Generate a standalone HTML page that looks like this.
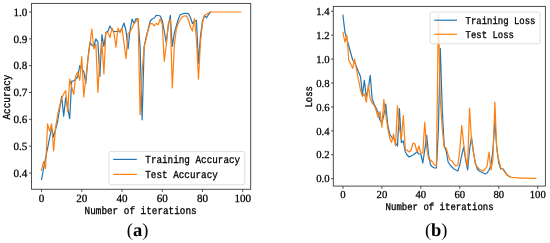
<!DOCTYPE html>
<html><head><meta charset="utf-8"><title>Accuracy and loss curves</title>
<style>
html,body{margin:0;padding:0;background:#fff;}
body{width:550px;height:243px;overflow:hidden;position:relative;}
svg{position:absolute;left:0;top:0;display:block;text-rendering:geometricPrecision;}
.tick{font-family:"Liberation Serif",serif;font-size:11.1px;fill:#000;stroke:#000;stroke-width:0.25px;}
.lab{font-family:"Liberation Mono",monospace;font-size:10.8px;fill:#000;stroke:#000;stroke-width:0.3px;}
.labb{font-size:10.4px;}
.tickb{font-size:10.7px;}
.cap{font-family:"Liberation Serif",serif;font-size:18.5px;fill:#000;}
.cap tspan.b{font-weight:bold;}
</style></head><body>
<svg width="550" height="243" viewBox="0 0 550 243">
<rect x="0" y="0" width="550" height="243" fill="#ffffff"/>
<!-- panel a -->
<g>
<polyline points="41.53,179.50 43.54,168.50 45.55,158.00 47.57,148.50 49.58,138.00 51.59,128.00 53.60,137.00 55.61,129.00 57.63,121.50 59.64,109.00 61.65,96.40 63.66,116.10 65.67,97.60 67.69,108.00 69.70,118.60 71.71,81.00 73.72,81.00 75.73,79.00 77.75,76.50 79.76,65.70 81.77,68.50 83.78,71.50 85.79,83.50 87.81,60.00 89.82,42.70 91.83,45.00 93.84,46.50 95.85,38.90 97.87,42.00 99.88,76.50 101.89,34.50 103.90,46.50 105.91,32.50 107.93,31.30 109.94,26.00 111.95,30.00 113.96,31.50 115.97,31.50 117.99,31.50 120.00,31.50 122.01,28.00 124.02,23.00 126.03,31.00 128.05,49.00 130.06,30.00 132.07,19.10 134.08,23.50 136.09,18.50 138.11,19.00 140.12,48.00 142.13,119.80 144.14,47.00 146.15,37.00 148.17,29.50 150.18,21.00 152.19,19.00 154.20,18.00 156.21,15.30 158.23,15.50 160.24,16.00 162.25,20.40 164.26,31.00 166.27,42.70 168.29,26.00 170.30,15.30 172.31,46.50 174.32,33.00 176.33,26.00 178.35,19.00 180.36,14.60 182.37,14.00 184.38,13.40 186.39,13.40 188.41,13.60 190.42,17.50 192.43,23.50 194.44,21.00 196.45,20.40 198.47,63.30 200.48,36.00 202.49,21.00 204.50,15.50 206.51,17.80 208.53,14.50 210.54,12.00" fill="none" stroke="#1f77b4" stroke-width="1.2" stroke-linejoin="round" stroke-linecap="square"/>
<polyline points="41.53,170.40 43.54,161.70 45.55,168.50 47.57,123.80 49.58,131.00 51.59,123.80 53.60,151.00 55.61,127.00 57.63,115.00 59.64,106.00 61.65,98.00 63.66,94.00 65.67,90.50 67.69,111.60 69.70,79.10 71.71,87.00 73.72,94.50 75.73,76.00 77.75,72.10 79.76,80.40 81.77,56.70 83.78,97.00 85.79,78.00 87.81,60.00 89.82,45.00 91.83,29.00 93.84,49.00 95.85,44.00 97.87,92.50 99.88,58.00 101.89,41.50 103.90,74.00 105.91,32.30 107.93,32.50 109.94,37.60 111.95,28.00 113.96,33.00 115.97,47.20 117.99,28.00 120.00,32.70 122.01,28.30 124.02,43.00 126.03,58.60 128.05,33.50 130.06,32.00 132.07,28.00 134.08,24.00 136.09,21.00 138.11,19.00 140.12,114.70 142.13,72.00 144.14,47.00 146.15,39.00 148.17,30.00 150.18,23.80 152.19,23.30 154.20,25.80 156.21,23.40 158.23,24.80 160.24,18.70 162.25,24.50 164.26,61.30 166.27,45.00 168.29,23.50 170.30,19.30 172.31,88.00 174.32,45.60 176.33,29.00 178.35,23.00 180.36,19.50 182.37,16.70 184.38,16.00 186.39,15.90 188.41,19.50 190.42,27.00 192.43,31.00 194.44,18.50 196.45,39.00 198.47,79.20 200.48,42.00 202.49,23.00 204.50,15.30 206.51,14.30 208.53,13.00 210.54,12.00 212.55,12.00 214.56,12.00 216.57,12.00 218.59,12.00 220.60,12.00 222.61,12.00 224.62,12.00 226.63,12.00 228.65,12.00 230.66,12.00 232.67,12.00 234.68,12.00 236.69,12.00 238.71,12.00 240.72,12.00" fill="none" stroke="#ff7f0e" stroke-width="1.2" stroke-linejoin="round" stroke-linecap="square"/>
<rect x="31.57" y="3.4" width="219.13" height="185.86" fill="none" stroke="#3a3a3a" stroke-width="0.9"/>
<g stroke="#3a3a3a" stroke-width="0.9">
<line x1="41.53" y1="189.26" x2="41.53" y2="191.9"/><line x1="81.77" y1="189.26" x2="81.77" y2="191.9"/><line x1="122.01" y1="189.26" x2="122.01" y2="191.9"/><line x1="162.25" y1="189.26" x2="162.25" y2="191.9"/><line x1="202.49" y1="189.26" x2="202.49" y2="191.9"/><line x1="242.73" y1="189.26" x2="242.73" y2="191.9"/>
<line x1="29" y1="172.98" x2="31.57" y2="172.98"/><line x1="29" y1="146.15" x2="31.57" y2="146.15"/><line x1="29" y1="119.32" x2="31.57" y2="119.32"/><line x1="29" y1="92.49" x2="31.57" y2="92.49"/><line x1="29" y1="65.66" x2="31.57" y2="65.66"/><line x1="29" y1="38.83" x2="31.57" y2="38.83"/><line x1="29" y1="12.00" x2="31.57" y2="12.00"/>
</g>
<g class="tick" text-anchor="middle">
<text x="41.53" y="201.5">0</text><text x="81.77" y="201.5">20</text><text x="122.01" y="201.5">40</text><text x="162.25" y="201.5">60</text><text x="202.49" y="201.5">80</text><text x="242.73" y="201.5">100</text>
</g>
<g class="tick" text-anchor="end">
<text x="27.3" y="176.78">0.4</text><text x="27.3" y="149.95">0.5</text><text x="27.3" y="123.12">0.6</text><text x="27.3" y="96.29">0.7</text><text x="27.3" y="69.46">0.8</text><text x="27.3" y="42.63">0.9</text><text x="27.3" y="15.80">1.0</text>
</g>
<text class="lab" x="140.6" y="213.7" text-anchor="middle" textLength="112" lengthAdjust="spacingAndGlyphs">Number of iterations</text>
<text class="lab" transform="translate(9.5,97) rotate(-90)" text-anchor="middle" textLength="45" lengthAdjust="spacingAndGlyphs">Accuracy</text>
<rect x="109.1" y="151.4" width="135.7" height="33.4" rx="2" ry="2" fill="#fff" fill-opacity="0.8" stroke="#dadada" stroke-width="0.9"/>
<line x1="113.2" y1="159.4" x2="136.8" y2="159.4" stroke="#1f77b4" stroke-width="1.2"/>
<line x1="113.2" y1="174.4" x2="136.8" y2="174.4" stroke="#ff7f0e" stroke-width="1.2"/>
<text class="lab" x="145.3" y="163.2" textLength="94.9" lengthAdjust="spacingAndGlyphs">Training Accuracy</text>
<text class="lab" x="145.3" y="178.2" textLength="72.5" lengthAdjust="spacingAndGlyphs">Test Accuracy</text>
<text class="cap" x="137.5" y="236.3" text-anchor="middle">(<tspan class="b">a</tspan>)</text>
</g>
<!-- panel b -->
<g>
<polyline points="342.94,15.20 344.89,32.00 346.84,39.00 348.78,46.00 350.73,53.00 352.68,60.00 354.63,62.50 356.57,67.00 358.52,72.00 360.47,76.50 362.42,95.00 364.36,80.40 366.31,97.00 368.26,89.00 370.21,75.30 372.16,99.00 374.10,104.00 376.05,108.00 378.00,112.30 379.95,120.00 381.89,123.00 383.84,115.00 385.79,104.00 387.74,125.00 389.68,134.00 391.63,137.30 393.58,138.00 395.53,143.00 397.48,146.00 399.42,108.50 401.37,142.40 403.32,141.00 405.27,152.00 407.21,155.00 409.16,157.00 411.11,156.00 413.06,155.00 415.00,153.50 416.95,152.00 418.90,154.00 420.85,154.00 422.80,163.00 424.74,150.00 426.69,135.40 428.64,155.00 430.59,165.00 432.53,167.00 434.48,168.00 436.43,168.00 438.38,130.00 440.32,48.50 442.27,110.00 444.22,146.00 446.17,151.00 448.12,162.00 450.06,165.00 452.01,167.00 453.96,169.00 455.91,170.00 457.85,171.00 459.80,165.00 461.75,155.00 463.70,147.00 465.65,160.00 467.59,170.00 469.54,150.00 471.49,137.00 473.44,152.00 475.38,163.00 477.33,169.00 479.28,171.00 481.23,172.00 483.17,173.00 485.12,174.00 487.07,173.00 489.02,170.00 490.97,165.00 492.91,150.00 494.86,121.00 496.81,148.00 498.76,163.00 500.70,169.00 502.65,168.50 504.60,171.00 506.55,174.50 508.49,176.00 510.44,177.00" fill="none" stroke="#1f77b4" stroke-width="1.2" stroke-linejoin="round" stroke-linecap="square"/>
<polyline points="342.94,32.50 344.89,42.10 346.84,35.10 348.78,60.00 350.73,64.00 352.68,68.30 354.63,59.00 356.57,70.00 358.52,80.00 360.47,90.00 362.42,96.40 364.36,94.00 366.31,102.10 368.26,84.80 370.21,98.90 372.16,103.00 374.10,105.30 376.05,110.00 378.00,117.40 379.95,111.60 381.89,127.10 383.84,99.50 385.79,115.00 387.74,128.00 389.68,138.00 391.63,142.40 393.58,134.00 395.53,146.00 397.48,105.90 399.42,128.00 401.37,139.00 403.32,115.50 405.27,149.00 407.21,150.50 409.16,152.00 411.11,150.00 413.06,143.00 415.00,144.00 416.95,152.00 418.90,146.00 420.85,153.00 422.80,153.00 424.74,122.30 426.69,148.00 428.64,159.00 430.59,160.00 432.53,162.00 434.48,165.00 436.43,166.00 438.38,14.50 440.32,100.00 442.27,129.00 444.22,147.00 446.17,148.00 448.12,155.00 450.06,160.00 452.01,161.00 453.96,164.00 455.91,166.00 457.85,165.00 459.80,150.00 461.75,125.60 463.70,144.00 465.65,158.00 467.59,166.00 469.54,108.00 471.49,140.00 473.44,152.00 475.38,164.00 477.33,167.00 479.28,169.00 481.23,170.00 483.17,171.00 485.12,169.00 487.07,166.00 489.02,152.00 490.97,170.00 492.91,160.00 494.86,102.00 496.81,150.00 498.76,160.00 500.70,168.00 502.65,169.00 504.60,172.00 506.55,174.00 508.49,176.00 510.44,177.00 512.39,177.30 514.34,177.50 516.29,177.70 518.23,177.80 520.18,178.04 522.13,178.08 524.08,178.12 526.02,178.16 527.97,178.20 529.92,178.24 531.87,178.28 533.81,178.32 535.76,178.36" fill="none" stroke="#ff7f0e" stroke-width="1.2" stroke-linejoin="round" stroke-linecap="square"/>
<rect x="333.3" y="6.4" width="212.1" height="179.7" fill="none" stroke="#3a3a3a" stroke-width="0.9"/>
<g stroke="#3a3a3a" stroke-width="0.9">
<line x1="342.94" y1="186.1" x2="342.94" y2="188.8"/><line x1="381.89" y1="186.1" x2="381.89" y2="188.8"/><line x1="420.85" y1="186.1" x2="420.85" y2="188.8"/><line x1="459.80" y1="186.1" x2="459.80" y2="188.8"/><line x1="498.76" y1="186.1" x2="498.76" y2="188.8"/><line x1="537.71" y1="186.1" x2="537.71" y2="188.8"/>
<line x1="331" y1="178.70" x2="333.3" y2="178.70"/><line x1="331" y1="154.78" x2="333.3" y2="154.78"/><line x1="331" y1="130.86" x2="333.3" y2="130.86"/><line x1="331" y1="106.94" x2="333.3" y2="106.94"/><line x1="331" y1="83.02" x2="333.3" y2="83.02"/><line x1="331" y1="59.10" x2="333.3" y2="59.10"/><line x1="331" y1="35.18" x2="333.3" y2="35.18"/><line x1="331" y1="11.26" x2="333.3" y2="11.26"/>
</g>
<g class="tick tickb" text-anchor="middle">
<text x="342.94" y="198">0</text><text x="381.89" y="198">20</text><text x="420.85" y="198">40</text><text x="459.80" y="198">60</text><text x="498.76" y="198">80</text><text x="537.71" y="198">100</text>
</g>
<g class="tick tickb" text-anchor="end">
<text x="329.6" y="182.40">0.0</text><text x="329.6" y="158.48">0.2</text><text x="329.6" y="134.56">0.4</text><text x="329.6" y="110.64">0.6</text><text x="329.6" y="86.72">0.8</text><text x="329.6" y="62.80">1.0</text><text x="329.6" y="38.88">1.2</text><text x="329.6" y="14.96">1.4</text>
</g>
<text class="lab labb" x="439.6" y="209.8" text-anchor="middle" textLength="108" lengthAdjust="spacingAndGlyphs">Number of iterations</text>
<text class="lab labb" transform="translate(312.2,96.8) rotate(-90)" text-anchor="middle" textLength="21.6" lengthAdjust="spacingAndGlyphs">Loss</text>
<rect x="430.2" y="12.0" width="109.8" height="31.8" rx="2" ry="2" fill="#fff" fill-opacity="0.8" stroke="#dadada" stroke-width="0.9"/>
<line x1="434.3" y1="20.2" x2="457" y2="20.2" stroke="#1f77b4" stroke-width="1.2"/>
<line x1="434.3" y1="34.3" x2="457" y2="34.3" stroke="#ff7f0e" stroke-width="1.2"/>
<text class="lab labb" x="465.5" y="23.6" textLength="70" lengthAdjust="spacingAndGlyphs">Training Loss</text>
<text class="lab labb" x="465.5" y="37.7" textLength="48.5" lengthAdjust="spacingAndGlyphs">Test Loss</text>
<text class="cap" x="436.2" y="236.3" text-anchor="middle">(<tspan class="b">b</tspan>)</text>
</g>
</svg>
</body></html>
